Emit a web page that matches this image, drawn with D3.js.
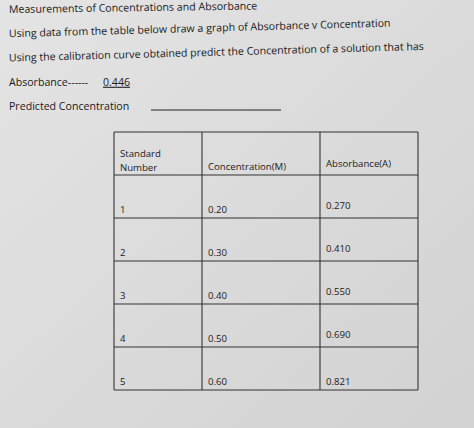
<!DOCTYPE html>
<html>
<head>
<meta charset="utf-8">
<script src="https://cdn.jsdelivr.net/npm/d3@7"></script>
<style>
  body { margin: 0; background: #dcdcdc; }
  svg text { font-family: "Open Sans", "Liberation Sans", sans-serif; fill: #1a1a1a; }
</style>
</head>
<body>
<script>
// worksheet text lines
const lines = [
    "Measurements of Concentrations and Absorbance",
    "Using data from the table below draw a graph of Absorbance v Concentration",
    "Using the calibration curve obtained predict the Concentration of a solution that has"
];
const standards = ["1", "2", "3", "4", "5"];
const concentrations = ["0.20", "0.30", "0.40", "0.50", "0.60"];
const absorbances = ["0.270", "0.410", "0.550", "0.690", "0.821"];
const headers = [["Standard", "Number"], ["Concentration(M)"], ["Absorbance(A)"]];

const width = 474, height = 428;
const svg = d3.select("body").append("svg")
    .attr("width", width).attr("height", height);

let grad = svg.append("defs").append("linearGradient")
    .attr("id", "paper").attr("x1", 0).attr("y1", 0).attr("x2", 1).attr("y2", 1);
grad.append("stop").attr("offset", "0%").attr("stop-color", "#e4e4e4");
grad.append("stop").attr("offset", "100%").attr("stop-color", "#d2d2d2");
svg.append("rect").attr("width", width).attr("height", height).attr("fill", "url(#paper)");

// header lines, slightly tilted like the photo
const lineY = d3.scaleLinear().domain([0, 4]).range([13, 110]);
lines.forEach((t, i) => {
    svg.append("text")
        .attr("x", 9).attr("y", lineY(i))
        .attr("transform", `rotate(${i === 0 ? -0.8 : -1.6} 9 ${lineY(i)})`)
        .style("font-size", "10.6px")
        .text(t);
});
svg.append("text").attr("x", 9).attr("y", lineY(3)).style("font-size", "10.6px").text("Absorbance------");
svg.append("text").attr("x", 103).attr("y", lineY(3)).style("font-size", "10.6px")
    .style("text-decoration", "underline").text("0.446");
svg.append("text").attr("x", 9).attr("y", lineY(4)).style("font-size", "10.6px").text("Predicted Concentration");
svg.append("line").attr("x1", 151).attr("x2", 281).attr("y1", lineY(4)).attr("y2", lineY(4))
    .attr("stroke", "#222").attr("stroke-width", 1);

// table
const colX = [114, 202, 320, 418];
const rowY = d3.scaleLinear().domain([0, 5]).range([175, 390]);
const tableTop = 132;
const g = svg.append("g").attr("stroke", "#333").attr("stroke-width", 1.1);

colX.forEach(x => g.append("line").attr("x1", x).attr("x2", x).attr("y1", tableTop).attr("y2", rowY(5)));
g.append("line").attr("x1", colX[0]).attr("x2", colX[3]).attr("y1", tableTop).attr("y2", tableTop);
d3.range(6).forEach(i => g.append("line")
    .attr("x1", colX[0]).attr("x2", colX[3]).attr("y1", rowY(i)).attr("y2", rowY(i)));

const headY = [[157, 171], [170], [167]];
headers.forEach((h, c) => h.forEach((t, k) => svg.append("text")
    .attr("x", colX[c] + 6).attr("y", headY[c][k])
    .style("font-size", "9.6px").text(t)));

[standards, concentrations, absorbances].forEach((col, c) => {
    svg.selectAll(null).data(col).join("text")
        .attr("x", colX[c] + 6)
        .attr("y", (d, i) => rowY(i + 1) - (c === 2 && i < 4 ? 9 : 5))
        .style("font-size", "9.6px")
        .text(d => d);
});
</script>
</body>
</html>
